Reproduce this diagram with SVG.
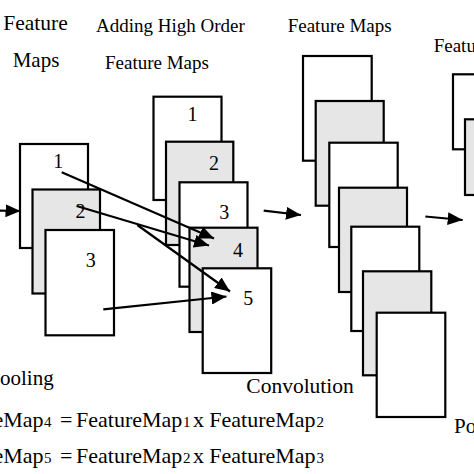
<svg xmlns="http://www.w3.org/2000/svg" width="474" height="474" viewBox="0 0 474 474">
<style>
  .map { fill: #ffffff; stroke: #000000; stroke-width: 2.2; }
  .map.g { fill: #e6e6e6; }
  .lbl { font-family: "Liberation Serif", "Times New Roman", serif; fill: #000000; }
  .num { font-family: "Liberation Serif", "Times New Roman", serif; font-size: 20px; fill: #000000; text-anchor: middle; }
  .eq { font-family: "Liberation Serif", "Times New Roman", serif; font-size: 22px; fill: #000000; }
  .sub { font-size: 15px; }
  .conn line { stroke: #000000; stroke-width: 2.2; marker-end: url(#ah); }
</style>
<defs>
  <marker id="ah" markerUnits="userSpaceOnUse" markerWidth="15" markerHeight="13" refX="15" refY="6.5" orient="auto">
    <path d="M0,0 L15,6.5 L0,13 z" fill="#000000"/>
  </marker>
</defs>
<rect width="474" height="474" fill="#ffffff"/>

<g id="labels">
  <text class="lbl" x="3.3" y="30" font-size="21.5">Feature</text>
  <text class="lbl" x="12.7" y="66.7" font-size="21">Maps</text>
  <text class="lbl" x="96" y="32.3" font-size="19">Adding High Order</text>
  <text class="lbl" x="105" y="69" font-size="19">Feature Maps</text>
  <text class="lbl" x="287.7" y="32.3" font-size="19">Feature Maps</text>
  <text class="lbl" x="433.7" y="51.7" font-size="19">Featu</text>
  <text class="lbl" x="0" y="385.3" font-size="21">ooling</text>
  <text class="lbl" x="246.3" y="393" font-size="21.5">Convolution</text>
  <text class="lbl" x="454" y="433.3" font-size="21">Po</text>
</g>

<g id="pool-stack">
  <g id="pool-1"><rect class="map" x="20" y="144" width="68" height="104"/><text class="num" x="58.3" y="168">1</text></g>
  <g id="pool-2"><rect class="map g" x="32.5" y="189.5" width="67.5" height="104"/><text class="num" x="80.5" y="218.3">2</text></g>
  <g id="pool-3"><rect class="map" x="45.5" y="230" width="68.5" height="105.3"/><text class="num" x="90.8" y="266.7">3</text></g>
</g>

<g id="high-order-stack">
  <g id="ho-1"><rect class="map" x="153.5" y="96.7" width="68" height="103.3"/><text class="num" x="192.5" y="120.7">1</text></g>
  <g id="ho-2"><rect class="map g" x="166" y="141.7" width="67.3" height="103.3"/><text class="num" x="214" y="170">2</text></g>
  <g id="ho-3"><rect class="map" x="179.5" y="182.3" width="68" height="104.4"/><text class="num" x="224.3" y="219.3">3</text></g>
  <g id="ho-4"><rect class="map g" x="189.5" y="227.7" width="68" height="104.3"/><text class="num" x="238" y="257.3">4</text></g>
  <g id="ho-5"><rect class="map" x="202.7" y="268.3" width="68.5" height="104.7"/><text class="num" x="248.3" y="305">5</text></g>
</g>

<g id="conv-stack">
  <rect id="cv-1" class="map" x="303" y="56" width="68.7" height="104.7"/>
  <rect id="cv-2" class="map g" x="315.7" y="101" width="68" height="104.7"/>
  <rect id="cv-3" class="map" x="329.3" y="142.7" width="68.4" height="104.3"/>
  <rect id="cv-4" class="map g" x="339" y="187.7" width="68" height="104.3"/>
  <rect id="cv-5" class="map" x="351.3" y="226.7" width="68" height="104.3"/>
  <rect id="cv-6" class="map g" x="363" y="271.3" width="68.3" height="104"/>
  <rect id="cv-7" class="map" x="376.7" y="312.7" width="68.6" height="104.3"/>
</g>

<g id="pool2-stack">
  <rect id="p2-1" class="map" x="453" y="74.3" width="40" height="75"/>
  <rect id="p2-2" class="map g" x="465" y="119.3" width="40" height="75.7"/>
</g>

<g id="connectors" class="conn">
  <line x1="-5" y1="210.5" x2="20.5" y2="211"/>
  <line x1="61.7" y1="172.3" x2="214" y2="238.5"/>
  <line x1="76.7" y1="206" x2="209" y2="245.5"/>
  <line x1="137.3" y1="225" x2="230" y2="291.5"/>
  <line x1="103.3" y1="309.3" x2="226.5" y2="296.5"/>
  <line x1="263.7" y1="210.7" x2="301" y2="215"/>
  <line x1="425.3" y1="216.5" x2="462.7" y2="220"/>
</g>

<g id="equations">
  <text class="eq" y="427"><tspan x="-6.5">eMap</tspan><tspan class="sub" x="44">4</tspan><tspan x="60">=</tspan><tspan x="76">FeatureMap</tspan><tspan class="sub" x="183">1</tspan><tspan x="193">x</tspan><tspan x="209.3">FeatureMap</tspan><tspan class="sub" x="316.5">2</tspan></text>
  <text class="eq" y="463"><tspan x="-6.5">eMap</tspan><tspan class="sub" x="44">5</tspan><tspan x="60">=</tspan><tspan x="76">FeatureMap</tspan><tspan class="sub" x="183">2</tspan><tspan x="193">x</tspan><tspan x="209.3">FeatureMap</tspan><tspan class="sub" x="316.5">3</tspan></text>
</g>
</svg>
